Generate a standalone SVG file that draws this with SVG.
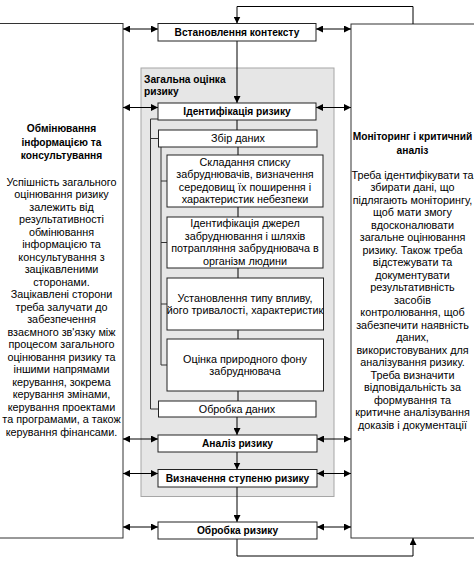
<svg xmlns="http://www.w3.org/2000/svg" width="474" height="564" viewBox="0 0 474 564">
<defs>
<marker id="ah" viewBox="0 0 10 10" refX="10" refY="5" markerWidth="7" markerHeight="7" markerUnits="userSpaceOnUse" orient="auto-start-reverse">
<path d="M0,0 L10,5 L0,10 Z" fill="#000"/>
</marker>
<style>
text{font-family:"Liberation Sans",Arial,sans-serif;fill:#000}
.r{font-size:10.8px}
.b{font-size:10.2px;font-weight:bold}
.c{text-anchor:middle}
.box{fill:#fff;stroke:#222;stroke-width:1}
.side{fill:#fff;stroke:#333;stroke-width:1}
.ln{fill:none;stroke:#000;stroke-width:1}
.ar{fill:none;stroke:#000;stroke-width:1;marker-end:url(#ah)}
.da{fill:none;stroke:#000;stroke-width:1;marker-start:url(#ah);marker-end:url(#ah)}
.br{fill:none;stroke:#333;stroke-width:1}
</style>
</defs>
<rect width="474" height="564" fill="#fff"/>

<g id="left-panel">
<rect class="side" x="-2" y="23.5" width="125" height="514.5"/>
<text class="b c" x="61.5" y="132">
<tspan x="61.5">Обмінювання</tspan><tspan x="61.5" dy="13.5">інформацією та</tspan><tspan x="61.5" dy="13.5">консультування</tspan>
</text>
<text class="r c" x="61.5" y="185.8">
<tspan x="61.5">Успішність загального</tspan><tspan x="61.5" dy="12.5">оцінювання ризику</tspan><tspan x="61.5" dy="12.5">залежить від</tspan><tspan x="61.5" dy="12.5">результативності</tspan><tspan x="61.5" dy="12.5">обмінювання</tspan><tspan x="61.5" dy="12.5">інформацією та</tspan><tspan x="61.5" dy="12.5">консультування з</tspan><tspan x="61.5" dy="12.5">зацікавленими</tspan><tspan x="61.5" dy="12.5">сторонами.</tspan><tspan x="61.5" dy="12.5">Зацікавлені сторони</tspan><tspan x="61.5" dy="12.5">треба залучати до</tspan><tspan x="61.5" dy="12.5">забезпечення</tspan><tspan x="61.5" dy="12.5">взаємного зв'язку між</tspan><tspan x="61.5" dy="12.5">процесом загального</tspan><tspan x="61.5" dy="12.5">оцінювання ризику та</tspan><tspan x="61.5" dy="12.5">іншими напрямами</tspan><tspan x="61.5" dy="12.5">керування, зокрема</tspan><tspan x="61.5" dy="12.5">керування змінами,</tspan><tspan x="61.5" dy="12.5">керування проектами</tspan><tspan x="61.5" dy="12.5">та програмами, а також</tspan><tspan x="61.5" dy="12.5">керування фінансами.</tspan>
</text>
</g>

<g id="right-panel">
<rect class="side" x="351" y="24" width="126" height="514"/>
<text class="b c" x="412.5" y="140">
<tspan x="412.5">Моніторинг і критичний</tspan><tspan x="412.5" dy="13.5">аналіз</tspan>
</text>
<text class="r c" x="412.5" y="178.8">
<tspan x="412.5">Треба ідентифікувати та</tspan><tspan x="412.5" dy="12.5">збирати дані, що</tspan><tspan x="412.5" dy="12.5">підлягають моніторингу,</tspan><tspan x="412.5" dy="12.5">щоб мати змогу</tspan><tspan x="412.5" dy="12.5">вдосконалювати</tspan><tspan x="412.5" dy="12.5">загальне оцінювання</tspan><tspan x="412.5" dy="12.5">ризику. Також треба</tspan><tspan x="412.5" dy="12.5">відстежувати та</tspan><tspan x="412.5" dy="12.5">документувати</tspan><tspan x="412.5" dy="12.5">результативність</tspan><tspan x="412.5" dy="12.5">засобів</tspan><tspan x="412.5" dy="12.5">контролювання, щоб</tspan><tspan x="412.5" dy="12.5">забезпечити наявність</tspan><tspan x="412.5" dy="12.5">даних,</tspan><tspan x="412.5" dy="12.5">використовуваних для</tspan><tspan x="412.5" dy="12.5">аналізування ризику.</tspan><tspan x="412.5" dy="12.5">Треба визначити</tspan><tspan x="412.5" dy="12.5">відповідальність за</tspan><tspan x="412.5" dy="12.5">формування та</tspan><tspan x="412.5" dy="12.5">критичне аналізування</tspan><tspan x="412.5" dy="12.5">доказів і документації</tspan>
</text>
</g>

<g id="assessment-group">
<rect x="141" y="68" width="193" height="428.5" fill="#e6e6e6" stroke="#a6a6a6" stroke-width="1"/>
<text class="b" x="144" y="82.6"><tspan x="144">Загальна оцінка</tspan><tspan x="144" dy="12.5">ризику</tspan></text>
</g>

<g id="connectors">
<path class="ar" d="M413,24 V6.5 H237 V23.5"/>
<path class="ar" d="M237,41 V103"/>
<path class="ln" d="M237,120 V130 M238,147 V155 M238,207 V217 M238,268 V278 M238,330 V339 M238,391 V401"/>
<path class="ar" d="M237,417 V435"/>
<path class="ar" d="M237,452 V469.5"/>
<path class="ar" d="M237,487 V522"/>
<path class="ar" d="M237,539 V556 H413 V538"/>
<path class="da" d="M123,29 H158"/>
<path class="da" d="M316,29 H351"/>
<path class="da" d="M123,107.5 H158"/>
<path class="da" d="M316,107.5 H351"/>
<path class="da" d="M123,439 H158"/>
<path class="da" d="M317,439 H351"/>
<path class="da" d="M123,473.5 H158"/>
<path class="da" d="M317,473.5 H351"/>
<path class="da" d="M123,527 H158"/>
<path class="da" d="M317,527 H351"/>
<path class="br" d="M158,119 H150.5 V409 H158.5 M150.5,138.5 H158.5"/>
<path class="br" d="M161,147 V365 H167 M161,181 H167 M161,242.5 H167 M161,304 H167"/>
</g>

<g id="context">
<rect class="box" x="158" y="23.5" width="158" height="17.5"/>
<text class="b c" x="237" y="36">Встановлення контексту</text>
</g>
<g id="identification">
<rect class="box" x="158" y="103" width="158" height="17"/>
<text class="b c" x="237" y="115.2">Ідентифікація ризику</text>
</g>
<g id="data-collection">
<rect class="box" x="158.5" y="130" width="158.5" height="17"/>
<text class="r c" x="238" y="142.3">Збір даних</text>
</g>
<g id="pollutants-list">
<rect class="box" x="167" y="155" width="156" height="52"/>
<text class="r c" x="245" y="165.8"><tspan x="245">Складання списку</tspan><tspan x="245" dy="12.5">забруднювачів, визначення</tspan><tspan x="245" dy="12.5">середовищ їх поширення і</tspan><tspan x="245" dy="12.5">характеристик небезпеки</tspan></text>
</g>
<g id="sources">
<rect class="box" x="167" y="217" width="156" height="51"/>
<text class="r c" x="245" y="227.3"><tspan x="245">Ідентифікація джерел</tspan><tspan x="245" dy="12.5">забруднювання і шляхів</tspan><tspan x="245" dy="12.5">потрапляння забруднювача в</tspan><tspan x="245" dy="12.5">організм людини</tspan></text>
</g>
<g id="impact-type">
<rect class="box" x="167" y="278" width="156.5" height="52"/>
<text class="r c" x="245" y="301.5"><tspan x="245">Установлення типу впливу,</tspan><tspan x="245" dy="12.5">його тривалості, характеристик</tspan></text>
</g>
<g id="background">
<rect class="box" x="167" y="339" width="156.5" height="52"/>
<text class="r c" x="245" y="362.5"><tspan x="245">Оцінка природного фону</tspan><tspan x="245" dy="12.5">забруднювача</tspan></text>
</g>
<g id="data-processing">
<rect class="box" x="158.5" y="401" width="157.5" height="16"/>
<text class="r c" x="237" y="412.8">Обробка даних</text>
</g>
<g id="analysis">
<rect class="box" x="158" y="435" width="159" height="17"/>
<text class="b c" x="237.5" y="447.2">Аналіз ризику</text>
</g>
<g id="evaluation">
<rect class="box" x="158" y="469.5" width="159" height="17.5"/>
<text class="b c" x="237.5" y="481.8">Визначення ступеню ризику</text>
</g>
<g id="treatment">
<rect class="box" x="158" y="522" width="159" height="17"/>
<text class="b c" x="237.5" y="534.2">Обробка ризику</text>
</g>
</svg>
